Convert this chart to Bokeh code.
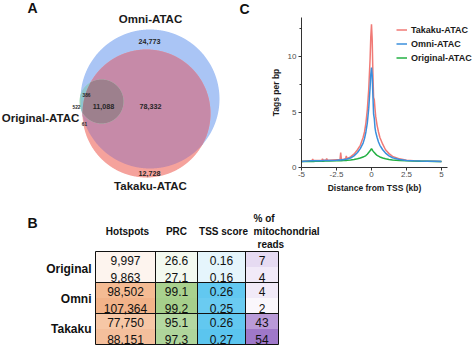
import numpy as np
from bokeh.plotting import figure
from bokeh.models import Range1d, FixedTicker, Legend, LegendItem, LinearAxis
from bokeh.core.properties import value
from bokeh.embed import file_html
from bokeh.resources import INLINE

FONT = value("Liberation Sans")

# ---------------- Panel A: Venn ----------------
set_names = ["Omni-ATAC", "Takaku-ATAC", "Original-ATAC"]
circle_cx = [149.5, 146.0, 101.0]
circle_cy = [98.5, 113.0, 101.0]
circle_r = [69.5, 64.0, 22.0]
region_counts = ["24,773", "78,332", "11,088", "12,728", "386", "522", "61"]

# ---------------- Panel C: TSS profile ----------------
tss_x = [-5, -4.5, -4.25, -4.2, -4.15, -4.0, -3.55, -3.5, -3.45, -3.3, -3.25, -3.2, -3.15, -3.0,
         -2.5, -2.25, -2.2, -2.15, -2.0, -1.85, -1.8, -1.75, -1.5, -1.25, -1.0, -0.8, -0.6,
         -0.5, -0.4, -0.3, -0.2, -0.1, -0.05, 0.0, 0.05, 0.1, 0.15, 0.2, 0.25, 0.3, 0.4,
         0.5, 0.6, 0.8, 1.0, 1.25, 1.5, 2.0, 2.5, 3.0, 3.5, 4.0, 4.5, 5.0]
takaku = [0.55, 0.6, 0.62, 0.75, 0.63, 0.62, 0.64, 0.78, 0.65, 0.65, 0.66, 0.8, 0.66, 0.66,
          0.7, 0.72, 1.35, 0.73, 0.75, 0.78, 1.05, 0.8, 0.95, 1.2, 1.6, 2.0, 2.7,
          3.2, 4.0, 5.2, 7.0, 9.8, 11.8, 12.9, 11.5, 8.5, 6.3, 6.1, 5.3, 4.6, 3.8,
          3.2, 2.7, 2.1, 1.6, 1.25, 1.0, 0.78, 0.66, 0.6, 0.57, 0.56, 0.56, 0.55]
omni = [0.55, 0.58, 0.6, 0.6, 0.6, 0.6, 0.61, 0.62, 0.62, 0.62, 0.62, 0.63, 0.63, 0.63,
        0.66, 0.68, 0.68, 0.69, 0.7, 0.74, 0.75, 0.76, 0.85, 1.05, 1.35, 1.7, 2.2,
        2.6, 3.2, 4.0, 5.3, 7.2, 8.4, 9.0, 8.3, 6.5, 4.8, 4.4, 3.6, 3.2, 2.7,
        2.3, 2.0, 1.6, 1.3, 1.05, 0.88, 0.72, 0.64, 0.6, 0.58, 0.57, 0.56, 0.55]
original = [0.55, 0.55, 0.55, 0.55, 0.55, 0.56, 0.57, 0.57, 0.57, 0.58, 0.58, 0.58, 0.58, 0.58,
            0.6, 0.61, 0.61, 0.61, 0.62, 0.64, 0.64, 0.65, 0.68, 0.72, 0.78, 0.85, 0.95,
            1.0, 1.08, 1.2, 1.35, 1.5, 1.6, 1.7, 1.6, 1.5, 1.42, 1.35, 1.28, 1.2, 1.1,
            1.02, 0.95, 0.85, 0.78, 0.72, 0.68, 0.62, 0.6, 0.58, 0.57, 0.56, 0.55, 0.55]
x_ticks = [-5, -2.5, 0, 2.5, 5]
x_tick_labels = ["-5", "-2.5", "0", "2.5", "5"]
y_ticks = [0, 5, 10]
y_minor_ticks = [2.5, 7.5, 12.5]

# ---------------- Panel B: table ----------------
table_rows = ["Original", "Omni", "Takaku"]
table_cols = ["Hotspots", "PRC", "TSS score"]
mito_header = ["% of", "mitochondrial", "reads"]
hotspots = ["9,997", "9,863", "98,502", "107,364", "77,750", "88,151"]
prc = ["26.6", "27.1", "99.1", "99.2", "95.1", "97.3"]
tss_score = ["0.16", "0.16", "0.26", "0.25", "0.26", "0.27"]
mito = ["7", "4", "4", "2", "43", "54"]

# styles
hot_colors = ["#fdf4ee", "#fdf4ee", "#f4bb93", "#f2b389", "#f6c7a6", "#f4bf9c"]
prc_colors = ["#f3f9f0", "#f3f9f0", "#a9d18e", "#a6cf8b", "#b4d8a1", "#afd59b"]
tss_colors = ["#e5f5fc", "#e5f5fc", "#62c8f0", "#6acbf1", "#62c8f0", "#5bc5ef"]
mito_colors = ["#e6dbf2", "#f1eaf8", "#f1eaf8", "#faf7fc", "#b99ad8", "#9f78c9"]

W, H = 474, 345


def inter_poly(idx):
    pts = []
    th = np.linspace(0, 2 * np.pi, 1440, endpoint=False)
    for i in idx:
        px = circle_cx[i] + circle_r[i] * np.cos(th)
        py = circle_cy[i] + circle_r[i] * np.sin(th)
        ok = np.ones_like(px, dtype=bool)
        for j in idx:
            if j != i:
                ok &= (px - circle_cx[j]) ** 2 + (py - circle_cy[j]) ** 2 <= circle_r[j] ** 2 + 1e-6
        pts.append(np.column_stack([px[ok], py[ok]]))
    pts = np.vstack(pts)
    c = pts.mean(axis=0)
    order = np.argsort(np.arctan2(pts[:, 1] - c[1], pts[:, 0] - c[0]))
    pts = pts[order]
    return list(pts[:, 0]), list(pts[:, 1])


# C panel geometry (pixels): x=-5 at 301, 14 px per kb; y=0 at 167, 11.1 px per unit
cx0, cxs, cy0, cys = 301.0, 14.0, 167.0, 11.1

p = figure(width=W, height=H, x_range=Range1d(0, W), y_range=Range1d(H, 0),
           x_axis_type=None, y_axis_type=None, output_backend="svg", toolbar_location=None,
           min_border=0)
p.outline_line_color = None
p.extra_x_ranges = {"cx": Range1d(-5 - cx0 / cxs, -5 + (W - cx0) / cxs)}
p.extra_y_ranges = {"cy": Range1d((cy0 - H) / cys, cy0 / cys)}

# ---- A: Venn
region_sets = [[0], [1], [0, 1], [2], [2, 0], [2, 1], [2, 0, 1]]
region_fill = ["#aac5f5", "#f5a29c", "#c68aa8", "#a3dab3", "#8ec4d0", "#c9a29c", "#9d808d"]
xs, ys = [], []
for s in region_sets:
    a, b = inter_poly(s)
    xs.append(a)
    ys.append(b)
p.patches(xs, ys, fill_color=region_fill, line_color=None)

p.text(x=[150, 150, 40], y=[18, 185, 117], text=set_names,
       text_font=FONT, text_font_style="bold", text_font_size="11.5px",
       text_align="center", text_baseline="middle", text_color="#1a1a1a")
p.text(x=[149, 150, 103, 149], y=[41, 106, 106, 173], text=region_counts[:4],
       text_font=FONT, text_font_style="bold", text_font_size="7.2px",
       text_align="center", text_baseline="middle", text_color="#262626")
p.text(x=[86, 76, 84], y=[94, 106, 123], text=region_counts[4:],
       text_font=FONT, text_font_style="bold", text_font_size="4.8px",
       text_align="center", text_baseline="middle", text_color="#262626")
p.text(x=[32, 32, 244], y=[7, 222, 8], text=["A", "B", "C"], text_font=FONT, text_font_style="bold",
       text_font_size="14px", text_align="center", text_baseline="middle", text_color="#111111")

# ---- C: TSS profile
r_red = p.line(tss_x, takaku, line_color="#f07a76", line_width=1.5, x_range_name="cx", y_range_name="cy")
r_green = p.line(tss_x, original, line_color="#23b043", line_width=1.5, x_range_name="cx", y_range_name="cy")
r_blue = p.line(tss_x, omni, line_color="#3b8fdc", line_width=1.5, x_range_name="cx", y_range_name="cy")

xax = LinearAxis(x_range_name="cx", y_range_name="cy", fixed_location=0, bounds=(-5, 5.43),
                 ticker=FixedTicker(ticks=x_ticks), axis_label="Distance from TSS (kb)")
xax.major_label_overrides = {t: l for t, l in zip(x_ticks, x_tick_labels)}
yax = LinearAxis(x_range_name="cx", y_range_name="cy", fixed_location=-5, bounds=(0, 13.55),
                 ticker=FixedTicker(ticks=y_ticks, minor_ticks=y_minor_ticks), axis_label="Tags per bp")
for ax in (xax, yax):
    ax.axis_line_color = "#333333"
    ax.major_tick_line_color = "#333333"
    ax.minor_tick_line_color = "#333333"
    ax.major_tick_out = 3
    ax.major_tick_in = 0
    ax.minor_tick_out = 2
    ax.minor_tick_in = 0
    ax.major_label_text_font = "Liberation Sans"
    ax.major_label_text_font_size = "8px"
    ax.major_label_text_color = "#4d4d4d"
    ax.axis_label_text_font = "Liberation Sans"
    ax.axis_label_text_font_size = "8.5px"
    ax.axis_label_text_font_style = "bold"
    ax.axis_label_text_color = "#1a1a1a"
xax.major_label_standoff = 1
xax.axis_label_standoff = 3
xax.minor_tick_line_color = None
yax.major_label_standoff = 2
yax.axis_label_standoff = 4
p.add_layout(xax, "below")
p.add_layout(yax, "left")

legend = Legend(items=[LegendItem(label="Takaku-ATAC", renderers=[r_red]),
                       LegendItem(label="Omni-ATAC", renderers=[r_blue]),
                       LegendItem(label="Original-ATAC", renderers=[r_green])],
                location=(396, H - 64))
legend.border_line_color = None
legend.background_fill_alpha = 0
legend.label_text_font = "Liberation Sans"
legend.label_text_font_size = "9px"
legend.label_text_font_style = "bold"
legend.label_text_color = "#1a1a1a"
legend.glyph_width = 11
legend.glyph_height = 13
legend.label_height = 13
legend.label_standoff = 4
legend.spacing = 1
legend.padding = 0
legend.margin = 0
p.add_layout(legend)

# ---- B: table
col_edges = [95, 155, 197, 245, 278]
row_top = 251.0
block_h = 31.0
sub_h = block_h / 2
cols = [hotspots, prc, tss_score, mito]
col_colors = [hot_colors, prc_colors, tss_colors, mito_colors]
L, R, T, B, C = [], [], [], [], []
tx, ty, tt = [], [], []
for ci in range(4):
    for ri in range(6):
        L.append(col_edges[ci])
        R.append(col_edges[ci + 1])
        T.append(row_top + ri * sub_h)
        B.append(row_top + (ri + 1) * sub_h)
        C.append(col_colors[ci][ri])
        tx.append((col_edges[ci] + col_edges[ci + 1]) / 2)
        ty.append(row_top + (ri // 2) * block_h + (9 if ri % 2 == 0 else 25.5))
        tt.append(cols[ci][ri])
p.quad(left=L, right=R, top=T, bottom=B, fill_color=C, line_color=None)
p.multi_line([[x, x] for x in col_edges], [[row_top, row_top + 3 * block_h]] * len(col_edges),
             line_color="#111111", line_width=1)
p.multi_line([[col_edges[0], col_edges[-1]]] * 4, [[row_top + k * block_h] * 2 for k in range(4)],
             line_color="#111111", line_width=1)
p.text(x=tx, y=ty, text=tt, text_font=FONT, text_font_size="12px",
       text_align="center", text_baseline="middle", text_color="#111111")
p.text(x=[91, 91, 91], y=[268, 298, 328], text=table_rows, text_font=FONT,
       text_font_style="bold", text_font_size="12px", text_align="right",
       text_baseline="middle", text_color="#111111")
p.text(x=[127, 176, 223], y=[231, 231, 231], text=table_cols, text_font=FONT,
       text_font_style="bold", text_font_size="10px", text_align="center",
       text_baseline="middle", text_color="#111111")
p.text(x=[253, 253, 257], y=[218, 231, 244], text=mito_header, text_font=FONT,
       text_font_style="bold", text_font_size="10px", text_align="left",
       text_baseline="middle", text_color="#111111")

open("out.html", "w").write(file_html(p, INLINE))
